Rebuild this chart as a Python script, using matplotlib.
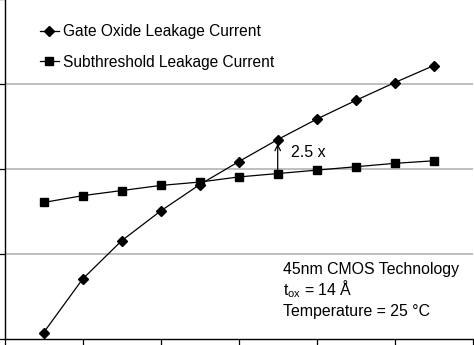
import numpy as np
import matplotlib.pyplot as plt

plt.rcParams['font.family'] = 'Liberation Sans'
plt.rcParams['mathtext.fontset'] = 'custom'
plt.rcParams['mathtext.rm'] = 'Liberation Sans'
plt.rcParams['mathtext.it'] = 'Liberation Sans'

# data (arbitrary log-decade units)
x = [1, 2, 3, 4, 5, 6, 7, 8, 9, 10, 11]
gate_oxide = [0.08, 0.71, 1.16, 1.51, 1.82, 2.09, 2.35, 2.59, 2.81, 3.02, 3.22]
subthreshold = [1.61, 1.69, 1.75, 1.81, 1.85, 1.91, 1.95, 1.99, 2.03, 2.07, 2.10]
xticks = [0, 2, 4, 6, 8, 10, 12]
yticks = [0, 1, 2, 3, 4]

W, H = 474, 345
fig = plt.figure(figsize=(W / 100, H / 100), dpi=100)
ax = fig.add_axes([4.7 / W, 5.7 / H, 468 / W, 340 / H])

ax.plot(x, gate_oxide, color='black', lw=0.9, marker='D', ms=4.8,
        label='Gate Oxide Leakage Current')
ax.plot(x, subthreshold, color='black', lw=0.9, marker='s', ms=5.5,
        label='Subthreshold Leakage Current')

ax.set_xlim(0, 12)
ax.set_ylim(0, 4)
ax.set_xticks(xticks)
ax.set_yticks(yticks)
ax.set_xticklabels([])
ax.set_yticklabels([])
ax.tick_params(direction='out', length=5, width=0.9, color='black')
for y in yticks[1:-1]:
    ax.axhline(y, color='#bababa', lw=1.3, zorder=0)
for s in ['top', 'right']:
    ax.spines[s].set_visible(False)
for s in ['left', 'bottom']:
    ax.spines[s].set_linewidth(1.0)

# 2.5x arrow between the two curves
ax.annotate('', xy=(x[6], gate_oxide[6]), xytext=(x[6], subthreshold[6]),
            arrowprops=dict(arrowstyle='->', color='black', lw=0.9,
                            shrinkA=3, shrinkB=3))
ax.text(7.33, 2.2, '2.5 x', fontsize=11.5, va='center', ha='left')

leg = ax.legend(loc='upper left', bbox_to_anchor=(40 / W, 1 - 24 / H),
                bbox_transform=fig.transFigure, frameon=False, fontsize=11.2,
                handlelength=1.2, handletextpad=0.3, labelspacing=1.0,
                borderpad=0, borderaxespad=0)

fig.text(283 / W, 1 - 274 / H, '45nm CMOS Technology', fontsize=11.4, va='baseline')
fig.text(283 / W, 1 - 295 / H, r't$_{\mathrm{ox}}$ = 14 Å', fontsize=11.4, va='baseline')
fig.text(283 / W, 1 - 316 / H, 'Temperature = 25 °C', fontsize=11.4, va='baseline')

fig.savefig('out.png', dpi=100)
